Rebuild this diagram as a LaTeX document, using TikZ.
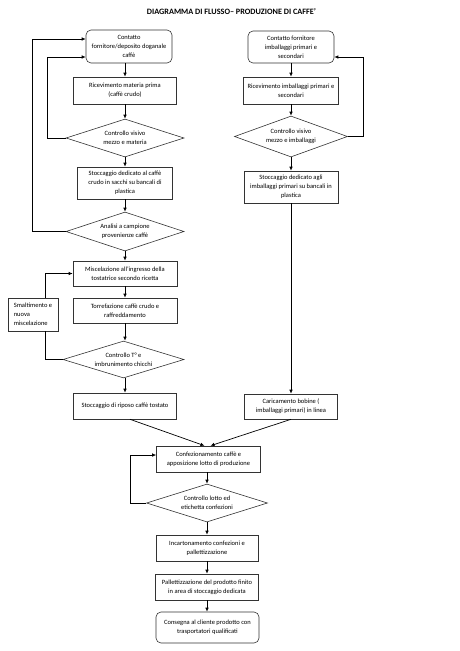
\documentclass[tikz,border=0pt]{standalone}
\usepackage{fontspec}
\setmainfont{Carlito}
\usetikzlibrary{shapes.geometric,arrows.meta}
\begin{document}
\begin{tikzpicture}[x=1pt,y=-1pt,
    block/.style={draw=black!80,line width=0.6pt,rectangle,align=center,inner sep=1pt,font=\fontsize{6.5}{9}\selectfont},
    term/.style={block,rounded corners=5pt},
    check/.style={block,diamond,inner sep=0pt,aspect=3},
    stream/.style={-{Latex[length=4pt,width=3.5pt]},line width=0.7pt}]
    %myborder
    \useasboundingbox (0,0) rectangle (460,651);
    \node[font=\fontsize{8.2}{10}\selectfont\bfseries] (title) at (231.5,12) {DIAGRAMMA DI FLUSSO– PRODUZIONE DI CAFFE'};

    %coffeeline
    \node[term,minimum width=86pt,minimum height=33pt] (forn) at (129,46.5) {Contatto\\fornitore/deposito doganale\\caffè};
    \node[block,minimum width=103pt,minimum height=27pt] (ricev) at (125,90.5) {Ricevimento materia prima\\(caffè crudo)};
    \node[check,minimum width=118pt,minimum height=38pt] (ctrlvis) at (125,138) {Controllo visivo\\mezzo e materia};
    \node[block,minimum width=95pt,minimum height=32pt] (stocc) at (125,183) {Stoccaggio dedicato al caffè\\crudo in sacchi su bancali di\\plastica};
    \node[check,minimum width=118pt,minimum height=39pt] (anal) at (125,231.5) {Analisi a campione\\provenienze caffè};
    \node[block,minimum width=104pt,minimum height=25pt] (misc) at (125,273.5) {Miscelazione all'ingresso della\\tostatrice secondo ricetta};
    \node[block,minimum width=104pt,minimum height=25pt] (torr) at (125,310.5) {Torrefazione caffè crudo e\\raffreddamento};
    \node[block,align=left,minimum width=50pt,minimum height=33pt] (smalt) at (33,314.5) {Smaltimento e\\nuova\\miscelazione};
    \node[check,minimum width=121pt,minimum height=37pt] (ctrltemp) at (123.5,359.5) {Controllo T° e\\imbrunimento chicchi};
    \node[block,minimum width=103pt,minimum height=26pt] (ripo) at (125,406) {Stoccaggio di riposo caffè tostato};

    \draw[stream] (forn.south -| ricev.north) -- (ricev.north);
    \draw[stream] (ricev.south) -- (ctrlvis.north);
    \draw[stream] (ctrlvis.south) -- (stocc.north);
    \draw[stream] (stocc.south) -- (anal.north);
    \draw[stream] (anal.south) -- (misc.north);
    \draw[stream] (misc.south) -- (torr.north);
    \draw[stream] (torr.south) -- (ctrltemp.north -| torr.south);
    \draw[stream] (ctrltemp.south -| ripo.north) -- (ripo.north);
    \draw[stream] (anal.west) -- ++(-33,0) |- ([yshift=7.5pt]forn.west);
    \draw[stream] (ctrlvis.west) -- ++(-18,0) |- ([yshift=-10.5pt]forn.west);
    \draw (ctrltemp.west) -| ([xshift=12pt]smalt.south);
    \draw[stream] ([xshift=12pt]smalt.north) |- (misc.west);

    %packagingline
    \node[term,minimum width=86pt,minimum height=32pt] (fornimb) at (291,47) {Contatto fornitore\\imballaggi primari e\\secondari};
    \node[block,minimum width=95pt,minimum height=27pt] (ricevimb) at (291,90.5) {Ricevimento imballaggi primari e\\secondari};
    \node[check,minimum width=113pt,minimum height=41pt] (ctrlimb) at (291,136.5) {Controllo visivo\\mezzo e imballaggi};
    \node[block,minimum width=94pt,minimum height=32pt] (stoccimb) at (291,187) {Stoccaggio dedicato agli\\imballaggi primari su bancali in\\plastica};
    \node[block,minimum width=93pt,minimum height=25pt] (carimb) at (291,406.5) {Caricamento bobine (\\imballaggi primari) in linea};

    \draw[stream] (fornimb.south) -- (ricevimb.north);
    \draw[stream] (ricevimb.south) -- (ctrlimb.north);
    \draw[stream] (ctrlimb.south) -- (stoccimb.north);
    \draw[stream] (stoccimb.south) -- (carimb.north);
    \draw[stream] (ctrlimb.east) -- ++(16,0) |- ([yshift=-10pt]fornimb.east);

    %finalline
    \node[block,minimum width=104pt,minimum height=26pt] (conf) at (208.5,459) {Confezionamento caffè e\\apposizione lotto di produzione};
    \node[check,minimum width=121pt,minimum height=38pt] (ctrllot) at (207,503) {Controllo lotto ed\\etichetta confezioni};
    \node[block,minimum width=102pt,minimum height=26pt] (incart) at (207,548) {Incartonamento confezioni e\\pallettizzazione};
    \node[block,minimum width=103pt,minimum height=26pt] (pallet) at (207,587) {Pallettizzazione del prodotto finito\\in area di stoccaggio dedicata};
    \node[term,minimum width=103pt,minimum height=31pt] (cons) at (207.5,627.5) {Consegna al cliente prodotto con\\trasportatori qualificati};

    \draw[stream] ([xshift=5pt]ripo.south) -- ([xshift=-4pt]conf.north);
    \draw[stream] (carimb.south) -- ([xshift=2pt]conf.north);
    \draw[stream] (conf.south -| ctrllot.north) -- (ctrllot.north);
    \draw[stream] (ctrllot.south) -- (incart.north);
    \draw[stream] (incart.south) -- (pallet.north);
    \draw[stream] (pallet.south) -- (cons.north -| pallet.south);
    \draw[stream] (ctrllot.west) -- ++(-16,0) |- ([yshift=4pt]conf.west);
  \end{tikzpicture}
\end{document}
